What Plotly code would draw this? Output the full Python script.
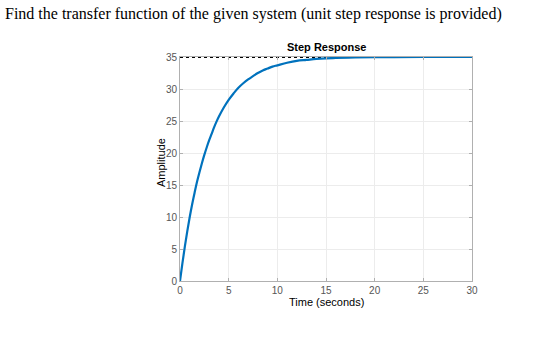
import plotly.graph_objects as go

# Step response samples (time in seconds, amplitude)
time_s = [0, 0.25, 0.5, 0.75, 1, 1.25, 1.5, 1.75, 2, 2.25, 2.5, 2.75, 3, 3.25, 3.5, 3.75, 4,
          4.5, 5, 5.5, 6, 6.5, 7, 7.5, 8, 8.5, 9, 9.5, 10, 11, 12, 13, 14, 15, 16, 18, 20, 22,
          25, 30]
amplitude = [0, 2.8, 5.4, 7.8, 10.0, 12.0, 13.8, 15.5, 17.0, 18.4, 19.7, 20.9, 22.0, 23.0, 24.0,
             24.9, 25.7, 27.1, 28.3, 29.3, 30.2, 30.9, 31.5, 32.0, 32.5, 32.9, 33.2, 33.5,
             33.7, 34.1, 34.4, 34.55, 34.7, 34.8, 34.85, 34.92, 34.96, 34.98, 35.0, 35.0]

# Steady-state level
final_value = 35
x_range = [0, 30]
y_range = [0, 35]
x_ticks = [0, 5, 10, 15, 20, 25, 30]
y_ticks = [0, 5, 10, 15, 20, 25, 30, 35]

sans = "Liberation Sans, Arial, sans-serif"
serif = "Liberation Serif, Times New Roman, serif"

fig = go.Figure()
fig.add_trace(go.Scatter(
    x=x_range, y=[final_value, final_value], mode="lines",
    line=dict(color="black", width=2.2, dash="dot"), hoverinfo="skip", showlegend=False,
))
fig.add_trace(go.Scatter(
    x=time_s, y=amplitude, mode="lines", line_shape="spline",
    line=dict(color="#0072BD", width=2.2), showlegend=False,
))

axis_common = dict(
    showgrid=True, gridcolor="#ececec", gridwidth=1,
    showline=True, linecolor="#b0b0b0", linewidth=1, mirror="ticks",
    ticks="inside", ticklen=3, tickcolor="#b0b0b0",
    tickfont=dict(family=sans, size=10, color="#555555"),
    zeroline=False, fixedrange=True,
)

fig.update_layout(
    width=546, height=340,
    margin=dict(l=180, r=74, t=57, b=59),
    paper_bgcolor="white", plot_bgcolor="white",
    title=dict(
        text="Find the transfer function of the given system (unit step response is provided)",
        font=dict(family=serif, size=16, color="black"),
        x=5 / 546, xanchor="left", xref="container",
        y=1 - 8 / 340, yanchor="top", yref="container",
    ),
    xaxis=dict(range=x_range, tickvals=x_ticks, **axis_common),
    yaxis=dict(range=y_range, tickvals=y_ticks, **axis_common),
    annotations=[
        dict(text="<b>Step Response</b>", x=0.5, y=1, xref="paper", yref="paper",
             xanchor="center", yanchor="bottom", yshift=2, showarrow=False,
             font=dict(family=sans, size=11, color="black")),
        dict(text="Time (seconds)", x=0.5, y=0, xref="paper", yref="paper",
             xanchor="center", yanchor="top", yshift=-13, showarrow=False,
             font=dict(family=sans, size=11, color="black")),
        dict(text="Amplitude", x=-19 / 292, y=(281 - 163) / 224, xref="paper", yref="paper",
             xanchor="center", yanchor="middle", textangle=-90, showarrow=False,
             font=dict(family=sans, size=11, color="black")),
    ],
)

fig.write_html("out.html")
